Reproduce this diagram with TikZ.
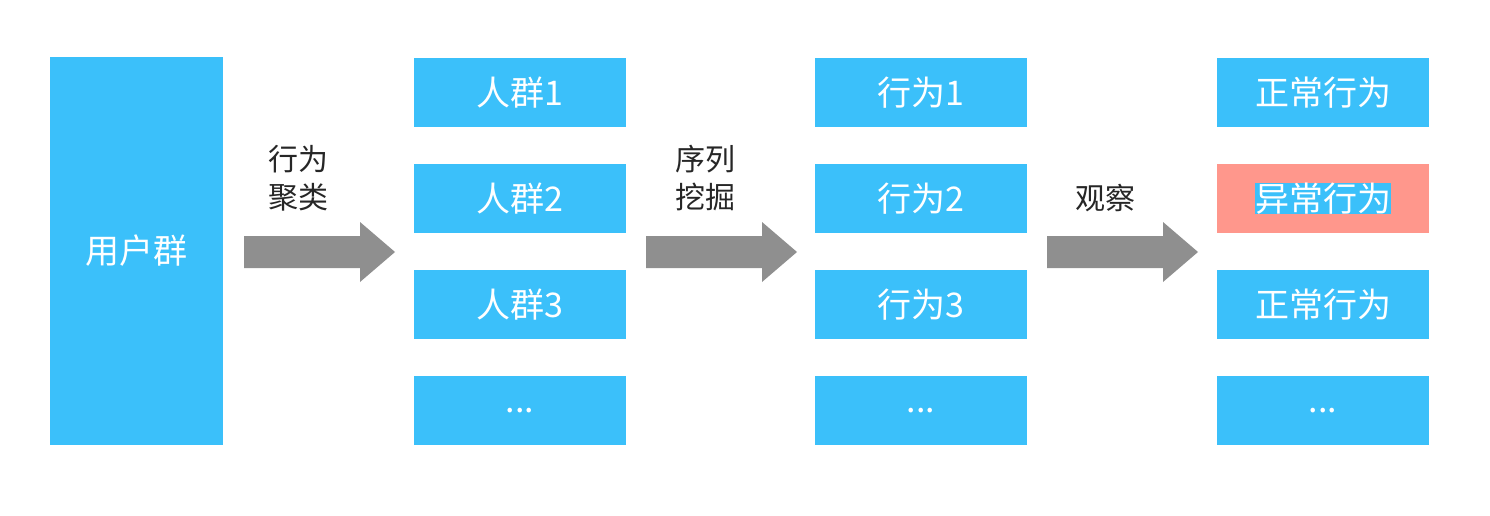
\documentclass[tikz,border=0pt]{standalone}
\usepackage{fontspec}
\setmainfont{Noto Sans CJK SC}
\definecolor{cblue}{HTML}{3BC0FA}
\definecolor{cred}{HTML}{FF978C}
\definecolor{cgray}{HTML}{8F8F8F}
\begin{document}
\begin{tikzpicture}[x=1pt,y=-1pt,
  box/.style={fill=cblue,draw=none,text=white,font=\fontsize{34}{36}\selectfont,inner sep=0},
  lab/.style={text=black!85,font=\fontsize{30}{34}\selectfont,inner sep=0,align=center}]
\useasboundingbox (0,0) rectangle (1490,516);
\fill[cblue] (50,57) rectangle (223,445);
\node[box] (u) at (136.5,251) {用户群};
\foreach \x/\n in {414/a,815/b,1217/c}{
  \foreach \y/\i in {58/1,164/2,270/3,376/4}{
    \fill[cblue] (\x,\y) rectangle ++(212,69);
    \coordinate (\n\i) at (\x+106,\y+34.5);
  }}
\fill[cred] (1217,164) rectangle ++(212,69);
\node[box] at (a1) {人群1};
\node[box] at (a2) {人群2};
\node[box] at (a3) {人群3};
\node[box] at (a4) {...};
\node[box] at (b1) {行为1};
\node[box] at (b2) {行为2};
\node[box] at (b3) {行为3};
\node[box] at (b4) {...};
\node[box] at (c1) {正常行为};
\node[box] at (c2) {异常行为};
\node[box] at (c3) {正常行为};
\node[box] at (c4) {...};
\foreach \x in {244,646,1047}{
  \fill[cgray] (\x,236) -- (\x+116,236) -- (\x+116,222) -- (\x+151,252) -- (\x+116,282) -- (\x+116,268) -- (\x,268) -- cycle;
}
\node[lab] (l1) at (298,178) {行为\\[4pt]聚类};
\node[lab] (l2) at (705,178) {序列\\[4pt]挖掘};
\node[lab] (l3) at (1105,198) {观察};
\end{tikzpicture}
\end{document}
